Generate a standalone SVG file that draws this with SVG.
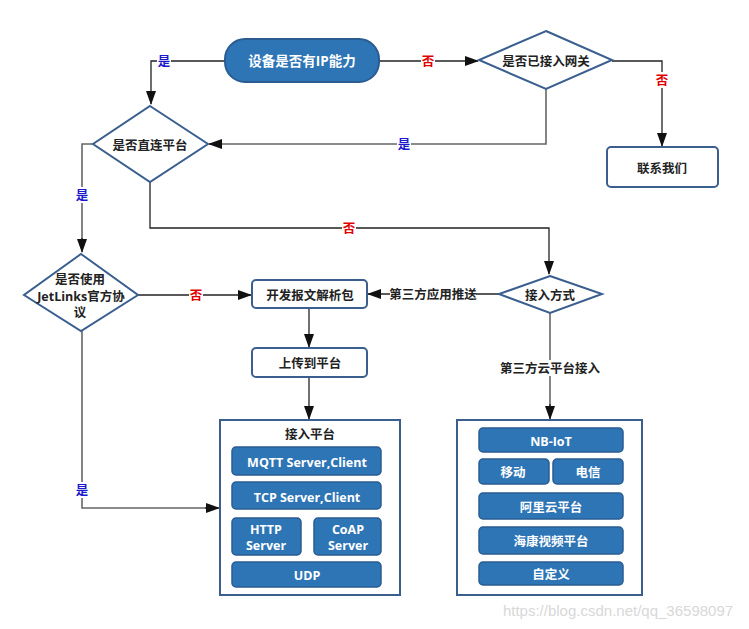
<svg xmlns="http://www.w3.org/2000/svg" width="749" height="629" viewBox="0 0 749 629">
<defs>
<marker id="ah" markerWidth="14" markerHeight="10" refX="13" refY="5" orient="auto" markerUnits="userSpaceOnUse">
<path d="M0,0 L14,5 L0,10 Z" fill="#111"/>
</marker>
<style>
text{font-family:"Open Sans","Noto Sans CJK SC",sans-serif;font-weight:bold;text-anchor:middle;dominant-baseline:central}
.dia{fill:#fff;stroke:#3a5f8f;stroke-width:2}
.box{fill:#fff;stroke:#3a5f8f;stroke-width:2}
.blk{fill:#2e75b6;stroke:#2a5c92;stroke-width:1.5}
.wt{fill:#fff;font-size:12.5px}
.dk{fill:#222;font-size:12.5px}
.ln{fill:none;stroke:#222;stroke-width:1.3}
.lg{fill:none;stroke:#666;stroke-width:1.6}
.yes{fill:#1a1acc;font-size:12.5px}
.no{fill:#e00000;font-size:12.5px}
.lbg{fill:#fff}
</style>
</defs>
<rect width="749" height="629" fill="#fff"/>
<g id="edges">
<path class="ln" d="M225,61 H151 V104" marker-end="url(#ah)"/>
<rect class="lbg" x="157" y="53" width="14" height="16"/>
<text class="yes" x="164" y="61">是</text>
<path class="ln" d="M380,61 H478" marker-end="url(#ah)"/>
<rect class="lbg" x="421" y="53" width="14" height="16"/>
<text class="no" x="428" y="61">否</text>
<path class="ln" d="M612,61 H662 V146" marker-end="url(#ah)"/>
<rect class="lbg" x="655" y="72" width="14" height="16"/>
<text class="no" x="662" y="80">否</text>
<path class="lg" d="M546,89 V144 H210"/>
<path class="ln" d="M222,144 H209" marker-end="url(#ah)"/>
<rect class="lbg" x="397" y="136" width="14" height="16"/>
<text class="yes" x="404" y="144">是</text>
<path class="lg" d="M93,144 H82 V240"/>
<path class="ln" d="M82,238 V252" marker-end="url(#ah)"/>
<rect class="lbg" x="75" y="187" width="14" height="16"/>
<text class="yes" x="82" y="195">是</text>
<path class="ln" d="M150,182 V228 H549 V274" marker-end="url(#ah)"/>
<rect class="lbg" x="342" y="220" width="14" height="16"/>
<text class="no" x="349" y="228">否</text>
<path class="ln" d="M138,295 H251" marker-end="url(#ah)"/>
<rect class="lbg" x="189" y="287" width="14" height="16"/>
<text class="no" x="196" y="295">否</text>
<path class="ln" d="M499,294 H368" marker-end="url(#ah)"/>
<rect class="lbg" x="390" y="286" width="86" height="16"/>
<text class="dk" x="433" y="294">第三方应用推送</text>
<path class="lg" d="M550,313 V406"/>
<path class="ln" d="M550,404 V419" marker-end="url(#ah)"/>
<rect class="lbg" x="499" y="360" width="102" height="16"/>
<text class="dk" x="550" y="368">第三方云平台接入</text>
<path class="ln" d="M309,308 V347" marker-end="url(#ah)"/>
<path class="ln" d="M309,377 V419" marker-end="url(#ah)"/>
<path class="lg" d="M82,331 V508 H208"/>
<path class="ln" d="M205,508 H219" marker-end="url(#ah)"/>
<rect class="lbg" x="75" y="482" width="14" height="16"/>
<text class="yes" x="82" y="490">是</text>
</g>
<g id="n-ip">
<rect x="225" y="39" width="154" height="43" rx="20" fill="#2e75b6" stroke="#2a5c92" stroke-width="2"/>
<text class="wt" x="302" y="61" style="font-size:13.5px">设备是否有IP能力</text>
</g>
<g id="n-gateway">
<polygon class="dia" points="546,31 612,60 546,89 479,60"/>
<text class="dk" x="546" y="61">是否已接入网关</text>
</g>
<g id="n-contact">
<rect class="box" x="607" y="147" width="111" height="40" rx="4"/>
<text class="dk" x="662" y="168">联系我们</text>
</g>
<g id="n-direct">
<polygon class="dia" points="150,106 208,144 150,182 93,144"/>
<text class="dk" x="150" y="145">是否直连平台</text>
</g>
<g id="n-jetlinks">
<polygon class="dia" points="81,254 138,295 81,331 24,295"/>
<text class="dk" x="80" y="279">是否使用</text>
<text class="dk" x="81" y="296">JetLinks官方协</text>
<text class="dk" x="80" y="312">议</text>
</g>
<g id="n-parse">
<rect class="box" x="252" y="280" width="115" height="28" rx="4"/>
<text class="dk" x="310" y="295">开发报文解析包</text>
</g>
<g id="n-method">
<polygon class="dia" points="550,276 602,294 550,313 499,294"/>
<text class="dk" x="550" y="295">接入方式</text>
</g>
<g id="n-upload">
<rect class="box" x="252" y="348" width="115" height="29" rx="4"/>
<text class="dk" x="310" y="363">上传到平台</text>
</g>
<g id="n-platform">
<rect class="box" x="220" y="420" width="180" height="175"/>
<text class="dk" x="310" y="434">接入平台</text>
<rect class="blk" x="232" y="447" width="149" height="28" rx="4"/>
<text class="wt" x="307" y="462">MQTT Server,Client</text>
<rect class="blk" x="232" y="482" width="149" height="27" rx="4"/>
<text class="wt" x="307" y="497">TCP Server,Client</text>
<rect class="blk" x="232" y="518" width="69" height="37" rx="4"/>
<text class="wt" x="266" y="529">HTTP</text>
<text class="wt" x="266" y="545">Server</text>
<rect class="blk" x="314" y="518" width="67" height="37" rx="4"/>
<text class="wt" x="348" y="529">CoAP</text>
<text class="wt" x="348" y="545">Server</text>
<rect class="blk" x="232" y="562" width="149" height="25" rx="4"/>
<text class="wt" x="307" y="575">UDP</text>
</g>
<g id="n-cloud">
<rect class="box" x="457" y="420" width="185" height="175"/>
<rect class="blk" x="479" y="428" width="144" height="24" rx="4"/>
<text class="wt" x="551" y="441">NB-IoT</text>
<rect class="blk" x="479" y="459" width="70" height="25" rx="4"/>
<text class="wt" x="513" y="472">移动</text>
<rect class="blk" x="553" y="459" width="70" height="25" rx="4"/>
<text class="wt" x="588" y="472">电信</text>
<rect class="blk" x="479" y="493" width="144" height="26" rx="4"/>
<text class="wt" x="551" y="507">阿里云平台</text>
<rect class="blk" x="479" y="527" width="144" height="27" rx="4"/>
<text class="wt" x="551" y="541">海康视频平台</text>
<rect class="blk" x="479" y="562" width="144" height="23" rx="4"/>
<text class="wt" x="551" y="574">自定义</text>
</g>
<text x="618" y="610" style="font-family:'Liberation Sans',sans-serif;font-weight:normal;font-size:15px;fill:#d8d8d8">https://blog.csdn.net/qq_36598097</text>
</svg>
